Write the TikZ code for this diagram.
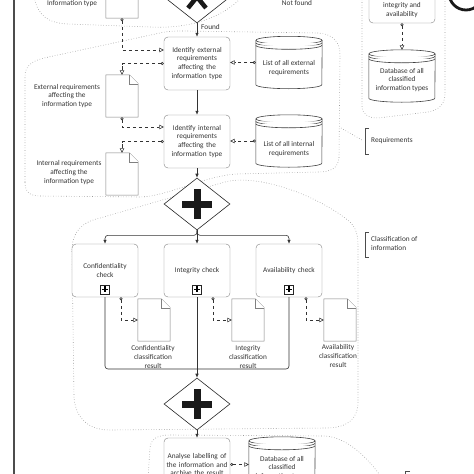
\documentclass[tikz,border=0pt]{standalone}
\usepackage{fontspec}
\setmainfont{Carlito}
\usetikzlibrary{shapes.geometric,arrows.meta}

\newcommand\diagfont{\fontsize{7.3}{8.9}\selectfont}
\newcommand\docshape[1]{%
  \draw[docline] (#1.south west) -- (#1.north west) -- ([xshift=-9pt]#1.north east)
    -- ([yshift=-9pt]#1.north east) -- (#1.south east) -- cycle;
  \draw[docline] ([xshift=-9pt]#1.north east) |- ([yshift=-9pt]#1.north east);}
\newcommand\storeshape[1]{%
  \draw[storeline] ([yshift=-4pt]#1.north west) -- ([yshift=4pt]#1.south west)
    arc[start angle=180,end angle=360,x radius=33pt,y radius=4pt] -- ([yshift=-4pt]#1.north east);
  \draw[storeline] ([yshift=-4pt]#1.north) ellipse[x radius=33pt,y radius=4pt];
  \draw[storeline] ([yshift=-6.5pt]#1.north west) arc[start angle=180,end angle=360,x radius=33pt,y radius=4pt];
  \draw[storeline] ([yshift=-9pt]#1.north west) arc[start angle=180,end angle=360,x radius=33pt,y radius=4pt];}

\tikzset{
  lane/.style={draw=black!70, line width=1.6pt},
  task/.style={draw=black!50, fill=white, rounded corners=4pt, minimum width=66pt, minimum height=53pt,
    text width=64pt, align=center, inner sep=0pt, font=\diagfont, text=black!80},
  tasklbl/.style={font=\diagfont, text=black!80, align=center, inner sep=0pt},
  gate/.style={diamond, draw=black!85, fill=white, line width=0.6pt, minimum width=66pt, minimum height=52pt, inner sep=0pt},
  docbox/.style={minimum width=32pt, minimum height=42pt, inner sep=0pt},
  docline/.style={draw=black!50, fill=white, line width=0.5pt},
  storebox/.style={minimum width=66pt, minimum height=52pt, inner sep=0pt},
  storeline/.style={draw=black!75, fill=white, line width=0.6pt},
  txt/.style={font=\diagfont, text=black!80, align=center, inner sep=0pt},
  flow/.style={draw=black!80, line width=0.6pt, rounded corners=3pt, -{Latex[length=4pt,width=3.5pt]}},
  seqline/.style={draw=black!80, line width=0.6pt, rounded corners=3pt},
  assoc/.style={draw=black!80, line width=0.6pt, dash pattern=on 3.5pt off 2.5pt,
    {Circle[open,length=3pt,width=3pt]}-{Triangle[open,length=4.5pt,width=4.5pt]}},
  grp/.style={draw=black!40, line width=0.6pt, dotted},
  bracket/.style={draw=black!70, line width=0.6pt},
  marker/.style={draw=black!85, minimum size=9pt, inner sep=0pt},
}

\begin{document}
\begin{tikzpicture}[x=1pt,y=-1pt]
        \useasboundingbox (0,0) rectangle (474,474);
        \clip (0,0) rectangle (474,474);

        \draw[grp] (34,-3) .. controls (38,16) and (48,23) .. (68,24) -- (150,27)
            .. controls (190,29) and (222,18) .. (242,-3);
        \draw[grp] (25,182) -- (25,76) .. controls (25,66) and (32,61) .. (44,58) -- (160,33)
            .. controls (168,31) and (175,31) .. (185,31) -- (318,33) .. controls (333,34) and (340,42) .. (340,55)
            -- (339,158) .. controls (338,168) and (331,172) .. (318,172) -- (236,174)
            .. controls (205,176) and (165,197) .. (140,197) -- (40,196) .. controls (29,196) and (25,191) .. (25,182) -- cycle;
        \draw[grp] (72,250) .. controls (72,232) and (82,222) .. (100,218) -- (225,182)
            .. controls (255,174) and (310,192) .. (345,218) .. controls (355,225) and (358,232) .. (358,246)
            -- (358,402) .. controls (358,420) and (346,428) .. (326,428) -- (110,430)
            .. controls (88,430) and (76,418) .. (74,398) -- cycle;
        \draw[grp] (148,478) -- (150,448) .. controls (151,439) and (157,435) .. (170,435) -- (325,436)
            .. controls (345,437) and (366,455) .. (382,478);
        \draw[grp] (362,-3) -- (362,106) .. controls (362,114) and (368,118) .. (378,118) -- (428,112)
            .. controls (439,110) and (445,104) .. (445,94) -- (445,-3);
        \draw[grp] (341,128) -- (362,140);

        \draw[lane] (14,-5) -- (14,480);

        \node[gate] (gwX) at (197,-3) {};
        \draw[line width=4.5pt, black!90] (gwX.center) +(-9,-11) -- +(9,11) (gwX.center) +(9,-11) -- +(-9,11);
        \node[docbox] (infoDoc) at (122,-3) {};
        \docshape{infoDoc}
        \node[txt] (infoLbl) at (72,4) {Information type};
        \node[txt] (lblNotFound) at (297,3) {Not found};
        \node[txt, anchor=west] (lblFound) at (201,27) {Found};

        \node[task] (taskExt) at (197,63.5) {Identify external\\requirements\\affecting the\\information type};
        \node[task] (taskInt) at (197,141.5) {Identify internal\\requirements\\affecting the\\information type};
        \node[docbox] (extDoc) at (122,96) {};
        \docshape{extDoc}
        \node[txt] (extLbl) at (67,96) {External requirements\\affecting the\\information type};
        \node[docbox] (intDoc) at (122,174) {};
        \docshape{intDoc}
        \node[txt] (intLbl) at (69,172.5) {Internal requirements\\affecting the\\information type};
        \node[storebox] (extStore) at (289,62.5) {};
        \storeshape{extStore}
        \node[txt] (extStoreLbl) at (289,68.5) {List of all external\\requirements};
        \node[storebox] (intStore) at (289,141) {};
        \storeshape{intStore}
        \node[txt] (intStoreLbl) at (289,149) {List of all internal\\requirements};

        \node[gate] (gwSplit) at (197,204) {};
        \draw[line width=7pt, black!90] (gwSplit.center) +(-15,0) -- +(15,0) (gwSplit.center) +(0,-15) -- +(0,15);

        \node[task] (taskConf) at (105,270.5) {Confidentiality\\check};
        \node[task] (taskInteg) at (197,270.5) {Integrity check};
        \node[task] (taskAvail) at (289,270.5) {Availability check};
        \foreach \t in {taskConf,taskInteg,taskAvail} {
            \node[marker] (\t-mk) at ([yshift=8pt]\t.south) {};
            \draw[line width=1.3pt] (\t-mk.center) +(-3,0) -- +(3,0) (\t-mk.center) +(0,-3) -- +(0,3);
        }
        \node[docbox] (confDoc) at (154,320) {};
        \docshape{confDoc}
        \node[docbox] (integDoc) at (248,320) {};
        \docshape{integDoc}
        \node[docbox] (availDoc) at (340,320) {};
        \docshape{availDoc}
        \node[txt] (confLbl) at (153,357) {Confidentiality\\classification\\result};
        \node[txt] (integLbl) at (248,357) {Integrity\\classification\\result};
        \node[txt] (availLbl) at (338,356) {Availability\\classification\\result};

        \node[gate] (gwJoin) at (197,404) {};
        \draw[line width=7pt, black!90] (gwJoin.center) +(-15,0) -- +(15,0) (gwJoin.center) +(0,-15) -- +(0,15);
        \coordinate (merge) at (197,369);

        \node[task] (taskLabel) at (197,464.5) {Analyse labelling of\\the information and\\archive the result};
        \node[storebox] (dbStore) at (282,463) {};
        \storeshape{dbStore}
        \node[txt] (dbStoreLbl) at (282,468) {Database of all\\classified\\information types};

        \node[task] (taskSave) at (402,-3.5) [label={[tasklbl,yshift=-14pt]center:integrity and\\availability}] {};
        \node[storebox] (allStore) at (402,76) {};
        \storeshape{allStore}
        \node[txt] (allStoreLbl) at (402,80) {Database of all\\classified\\information types};
        \node[circle, draw=black!90, line width=2.8pt, minimum size=34pt, inner sep=0pt] (endEv) at (466,-7) {};

        \draw[bracket] (369,128) -- (365,128) -- (365,154) -- (369,154);
        \node[txt, anchor=west] (reqLbl) at (371,141) {Requirements};
        \draw[bracket] (369,232) -- (365,232) -- (365,257) -- (369,257);
        \node[txt, anchor=west, align=left] (classLbl) at (371,243.5) {Classification of\\information};
        \draw[bracket] (410,471) -- (405,471) -- (405,480);

        \draw[flow] (gwX.south) -- (taskExt.north);
        \draw[flow] (taskExt.south) -- (taskInt.north);
        \draw[flow] (taskInt.south) -- (gwSplit.north);
        \draw[flow] (gwSplit.south) -- ++(0,5) -| (taskConf.north);
        \draw[flow] (gwSplit.south) -- ++(0,5) -| (taskAvail.north);
        \draw[flow] (gwSplit.south) -- (taskInteg.north);
        \draw[seqline] (taskConf.south) |- (merge);
        \draw[seqline] (taskAvail.south) |- (merge);
        \draw[flow] (taskInteg.south) -- (gwJoin.north);
        \draw[flow] (gwJoin.south) -- (taskLabel.north);

        \draw[assoc] (infoDoc.south) |- ([yshift=13.5pt]taskExt.west);
        \draw[assoc] (taskExt.west) -| (extDoc.north);
        \draw[assoc] (extDoc.south) |- ([yshift=14.5pt]taskInt.west);
        \draw[assoc] (taskInt.west) -| (intDoc.north);
        \draw[assoc] (extStore.west) -- (extStore.west -| taskExt.east);
        \draw[assoc] (intStore.west) -- (intStore.west -| taskInt.east);
        \draw[assoc] ([xshift=16pt]taskConf.south) |- (confDoc.west);
        \draw[assoc] ([xshift=16pt]taskInteg.south) |- (integDoc.west);
        \draw[assoc] ([xshift=17pt]taskAvail.south) |- (availDoc.west);
        \draw[assoc] (taskLabel.east) -- (taskLabel.east -| dbStore.west);
        \draw[assoc] (taskSave.south) -- (allStore.north);
\end{tikzpicture}
\end{document}
